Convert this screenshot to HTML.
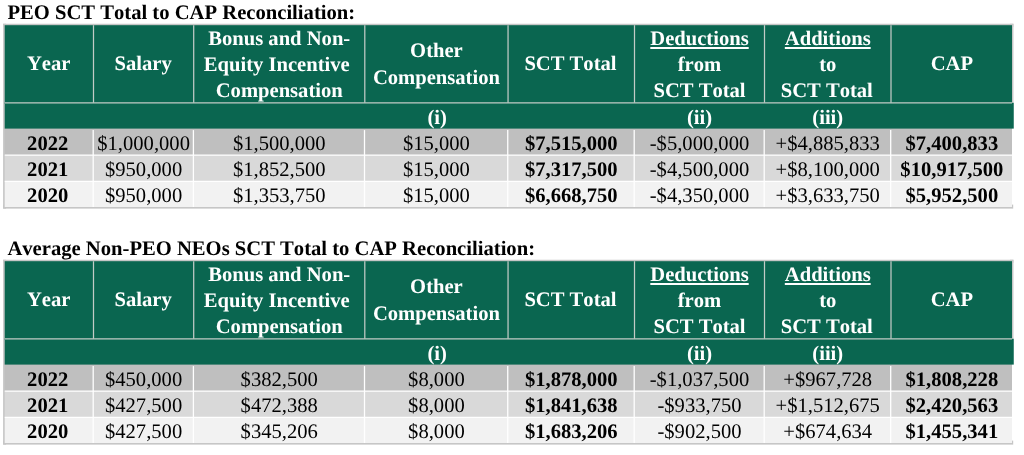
<!DOCTYPE html>
<html><head><meta charset="utf-8"><title>SCT Total to CAP Reconciliation</title>
<style>
html,body{margin:0;padding:0;background:#fff;}
body{width:1024px;height:455px;position:relative;overflow:hidden;font-family:"Liberation Serif","Times New Roman",serif;font-size:20.6px;color:#000;}
svg{position:absolute;left:0;top:0;}
.t{position:absolute;font-kerning:none;text-rendering:geometricPrecision;line-height:26px;height:26px;white-space:nowrap;text-align:center;}
.ttl{font-weight:bold;text-align:left;font-size:20.64px;}
.h{font-weight:bold;color:#fff;}
.b{font-weight:bold;}
.h u{text-decoration-thickness:2px;text-underline-offset:2px;}
</style></head><body>
<svg width="1024" height="455" viewBox="0 0 1024 455">
<rect x="3.1" y="23.75" width="3" height="184.85" fill="#c6c6c6"/>
<rect x="3.1" y="23.75" width="1010.35" height="3" fill="#c6c6c6"/>
<rect x="3.1" y="204.60" width="1010.1" height="4" fill="#c6c6c6"/>
<rect x="1010" y="23.75" width="3.45" height="79.00" fill="#c6c6c6"/>
<rect x="4.7" y="181.40" width="1007.3" height="25.60" fill="#f2f2f2"/>
<rect x="4.7" y="155.20" width="1007.3" height="26.20" fill="#d9d9d9"/>
<rect x="4.7" y="120.60" width="1007.3" height="34.60" fill="#bfbfbf"/>
<rect x="4.7" y="25.20" width="1007.3" height="78.55" fill="#0a6650"/>
<rect x="4.7" y="102.75" width="1009.05" height="25.85" fill="#0a6650"/>
<line x1="4.7" x2="1012.0" y1="155.20" y2="155.20" stroke="#fff" stroke-width="1.3"/>
<line x1="4.7" x2="1012.0" y1="181.40" y2="181.40" stroke="#fff" stroke-width="1.3"/>
<line x1="93.5" x2="93.5" y1="25.20" y2="102.75" stroke="#c2cbc6" stroke-width="1.25"/>
<line x1="93.2" x2="93.2" y1="130.10" y2="207.00" stroke="#fff" stroke-width="1.3"/>
<line x1="193.7" x2="193.7" y1="25.20" y2="102.75" stroke="#c2cbc6" stroke-width="1.25"/>
<line x1="193.39999999999998" x2="193.39999999999998" y1="130.10" y2="207.00" stroke="#fff" stroke-width="1.3"/>
<line x1="364.8" x2="364.8" y1="25.20" y2="102.75" stroke="#c2cbc6" stroke-width="1.25"/>
<line x1="364.5" x2="364.5" y1="130.10" y2="207.00" stroke="#fff" stroke-width="1.3"/>
<line x1="508.05" x2="508.05" y1="25.20" y2="102.75" stroke="#c2cbc6" stroke-width="1.25"/>
<line x1="507.75" x2="507.75" y1="130.10" y2="207.00" stroke="#fff" stroke-width="1.3"/>
<line x1="634.5" x2="634.5" y1="25.20" y2="102.75" stroke="#c2cbc6" stroke-width="1.25"/>
<line x1="634.2" x2="634.2" y1="130.10" y2="207.00" stroke="#fff" stroke-width="1.3"/>
<line x1="764.5" x2="764.5" y1="25.20" y2="102.75" stroke="#c2cbc6" stroke-width="1.25"/>
<line x1="764.2" x2="764.2" y1="130.10" y2="207.00" stroke="#fff" stroke-width="1.3"/>
<line x1="891.0" x2="891.0" y1="25.20" y2="102.75" stroke="#c2cbc6" stroke-width="1.25"/>
<line x1="890.7" x2="890.7" y1="130.10" y2="207.00" stroke="#fff" stroke-width="1.3"/>
<line x1="4.7" x2="1012.0" y1="102.75" y2="102.75" stroke="#c2cbc6" stroke-width="1.25"/>
<rect x="3.1" y="259.75" width="3" height="184.85" fill="#c6c6c6"/>
<rect x="3.1" y="259.75" width="1010.35" height="3" fill="#c6c6c6"/>
<rect x="3.1" y="440.60" width="1010.1" height="4" fill="#c6c6c6"/>
<rect x="1010" y="259.75" width="3.45" height="79.00" fill="#c6c6c6"/>
<rect x="4.7" y="417.40" width="1007.3" height="25.60" fill="#f2f2f2"/>
<rect x="4.7" y="391.20" width="1007.3" height="26.20" fill="#d9d9d9"/>
<rect x="4.7" y="356.60" width="1007.3" height="34.60" fill="#bfbfbf"/>
<rect x="4.7" y="261.20" width="1007.3" height="78.55" fill="#0a6650"/>
<rect x="4.7" y="338.75" width="1009.05" height="25.85" fill="#0a6650"/>
<line x1="4.7" x2="1012.0" y1="391.20" y2="391.20" stroke="#fff" stroke-width="1.3"/>
<line x1="4.7" x2="1012.0" y1="417.40" y2="417.40" stroke="#fff" stroke-width="1.3"/>
<line x1="93.5" x2="93.5" y1="261.20" y2="338.75" stroke="#c2cbc6" stroke-width="1.25"/>
<line x1="93.2" x2="93.2" y1="366.10" y2="443.00" stroke="#fff" stroke-width="1.3"/>
<line x1="193.7" x2="193.7" y1="261.20" y2="338.75" stroke="#c2cbc6" stroke-width="1.25"/>
<line x1="193.39999999999998" x2="193.39999999999998" y1="366.10" y2="443.00" stroke="#fff" stroke-width="1.3"/>
<line x1="364.8" x2="364.8" y1="261.20" y2="338.75" stroke="#c2cbc6" stroke-width="1.25"/>
<line x1="364.5" x2="364.5" y1="366.10" y2="443.00" stroke="#fff" stroke-width="1.3"/>
<line x1="508.05" x2="508.05" y1="261.20" y2="338.75" stroke="#c2cbc6" stroke-width="1.25"/>
<line x1="507.75" x2="507.75" y1="366.10" y2="443.00" stroke="#fff" stroke-width="1.3"/>
<line x1="634.5" x2="634.5" y1="261.20" y2="338.75" stroke="#c2cbc6" stroke-width="1.25"/>
<line x1="634.2" x2="634.2" y1="366.10" y2="443.00" stroke="#fff" stroke-width="1.3"/>
<line x1="764.5" x2="764.5" y1="261.20" y2="338.75" stroke="#c2cbc6" stroke-width="1.25"/>
<line x1="764.2" x2="764.2" y1="366.10" y2="443.00" stroke="#fff" stroke-width="1.3"/>
<line x1="891.0" x2="891.0" y1="261.20" y2="338.75" stroke="#c2cbc6" stroke-width="1.25"/>
<line x1="890.7" x2="890.7" y1="366.10" y2="443.00" stroke="#fff" stroke-width="1.3"/>
<line x1="4.7" x2="1012.0" y1="338.75" y2="338.75" stroke="#c2cbc6" stroke-width="1.25"/>
</svg>
<div class="t ttl" style="left:7.4px;top:0.00px">PEO SCT Total to CAP Reconciliation:</div>
<div class="t h" style="left:3.90px;width:89.60px;top:51.00px">Year</div>
<div class="t h" style="left:93.10px;width:100.20px;top:51.00px">Salary</div>
<div class="t h" style="left:193.70px;width:171.10px;top:26.00px">Bonus and Non-</div>
<div class="t h" style="left:191.20px;width:171.10px;top:52.00px">Equity Incentive</div>
<div class="t h" style="left:193.70px;width:171.10px;top:78.00px">Compensation</div>
<div class="t h" style="left:364.80px;width:143.25px;top:38.00px">Other</div>
<div class="t h" style="left:364.80px;width:143.25px;top:65.00px">Compensation</div>
<div class="t h" style="left:365.60px;width:143.25px;top:105.00px">(i)</div>
<div class="t h" style="left:507.25px;width:126.45px;top:51.00px">SCT Total</div>
<div class="t h" style="left:634.50px;width:130.00px;top:26.00px"><u>Deductions</u></div>
<div class="t h" style="left:634.50px;width:130.00px;top:52.00px">from</div>
<div class="t h" style="left:634.50px;width:130.00px;top:78.00px">SCT Total</div>
<div class="t h" style="left:634.50px;width:130.00px;top:105.00px">(ii)</div>
<div class="t h" style="left:764.50px;width:126.50px;top:26.00px"><u>Additions</u></div>
<div class="t h" style="left:764.50px;width:126.50px;top:52.00px">to</div>
<div class="t h" style="left:763.50px;width:126.50px;top:78.00px">SCT Total</div>
<div class="t h" style="left:764.50px;width:126.50px;top:105.00px">(iii)</div>
<div class="t h" style="left:891.00px;width:121.70px;top:51.00px">CAP</div>
<div class="t b" style="left:2.90px;width:89.60px;top:131.00px">2022</div>
<div class="t n" style="left:93.50px;width:100.20px;top:131.00px">$1,000,000</div>
<div class="t n" style="left:193.70px;width:171.10px;top:131.00px">$1,500,000</div>
<div class="t n" style="left:364.80px;width:143.25px;top:131.00px">$15,000</div>
<div class="t b" style="left:508.05px;width:126.45px;top:131.00px">$7,515,000</div>
<div class="t n" style="left:634.50px;width:130.00px;top:131.00px">-$5,000,000</div>
<div class="t n" style="left:764.50px;width:126.50px;top:131.00px">+$4,885,833</div>
<div class="t b" style="left:891.00px;width:121.70px;top:131.00px">$7,400,833</div>
<div class="t b" style="left:2.90px;width:89.60px;top:157.00px">2021</div>
<div class="t n" style="left:93.50px;width:100.20px;top:157.00px">$950,000</div>
<div class="t n" style="left:193.70px;width:171.10px;top:157.00px">$1,852,500</div>
<div class="t n" style="left:364.80px;width:143.25px;top:157.00px">$15,000</div>
<div class="t b" style="left:508.05px;width:126.45px;top:157.00px">$7,317,500</div>
<div class="t n" style="left:634.50px;width:130.00px;top:157.00px">-$4,500,000</div>
<div class="t n" style="left:764.50px;width:126.50px;top:157.00px">+$8,100,000</div>
<div class="t b" style="left:891.00px;width:121.70px;top:157.00px">$10,917,500</div>
<div class="t b" style="left:2.90px;width:89.60px;top:183.00px">2020</div>
<div class="t n" style="left:93.50px;width:100.20px;top:183.00px">$950,000</div>
<div class="t n" style="left:193.70px;width:171.10px;top:183.00px">$1,353,750</div>
<div class="t n" style="left:364.80px;width:143.25px;top:183.00px">$15,000</div>
<div class="t b" style="left:508.05px;width:126.45px;top:183.00px">$6,668,750</div>
<div class="t n" style="left:634.50px;width:130.00px;top:183.00px">-$4,350,000</div>
<div class="t n" style="left:764.50px;width:126.50px;top:183.00px">+$3,633,750</div>
<div class="t b" style="left:891.00px;width:121.70px;top:183.00px">$5,952,500</div>
<div class="t ttl" style="left:7.4px;top:236.00px">Average Non-PEO NEOs SCT Total to CAP Reconciliation:</div>
<div class="t h" style="left:3.90px;width:89.60px;top:287.00px">Year</div>
<div class="t h" style="left:93.10px;width:100.20px;top:287.00px">Salary</div>
<div class="t h" style="left:193.70px;width:171.10px;top:262.00px">Bonus and Non-</div>
<div class="t h" style="left:191.20px;width:171.10px;top:288.00px">Equity Incentive</div>
<div class="t h" style="left:193.70px;width:171.10px;top:314.00px">Compensation</div>
<div class="t h" style="left:364.80px;width:143.25px;top:274.00px">Other</div>
<div class="t h" style="left:364.80px;width:143.25px;top:301.00px">Compensation</div>
<div class="t h" style="left:365.60px;width:143.25px;top:341.00px">(i)</div>
<div class="t h" style="left:507.25px;width:126.45px;top:287.00px">SCT Total</div>
<div class="t h" style="left:634.50px;width:130.00px;top:262.00px"><u>Deductions</u></div>
<div class="t h" style="left:634.50px;width:130.00px;top:288.00px">from</div>
<div class="t h" style="left:634.50px;width:130.00px;top:314.00px">SCT Total</div>
<div class="t h" style="left:634.50px;width:130.00px;top:341.00px">(ii)</div>
<div class="t h" style="left:764.50px;width:126.50px;top:262.00px"><u>Additions</u></div>
<div class="t h" style="left:764.50px;width:126.50px;top:288.00px">to</div>
<div class="t h" style="left:763.50px;width:126.50px;top:314.00px">SCT Total</div>
<div class="t h" style="left:764.50px;width:126.50px;top:341.00px">(iii)</div>
<div class="t h" style="left:891.00px;width:121.70px;top:287.00px">CAP</div>
<div class="t b" style="left:2.90px;width:89.60px;top:367.00px">2022</div>
<div class="t n" style="left:93.50px;width:100.20px;top:367.00px">$450,000</div>
<div class="t n" style="left:193.70px;width:171.10px;top:367.00px">$382,500</div>
<div class="t n" style="left:364.80px;width:143.25px;top:367.00px">$8,000</div>
<div class="t b" style="left:508.05px;width:126.45px;top:367.00px">$1,878,000</div>
<div class="t n" style="left:634.50px;width:130.00px;top:367.00px">-$1,037,500</div>
<div class="t n" style="left:764.50px;width:126.50px;top:367.00px">+$967,728</div>
<div class="t b" style="left:891.00px;width:121.70px;top:367.00px">$1,808,228</div>
<div class="t b" style="left:2.90px;width:89.60px;top:393.00px">2021</div>
<div class="t n" style="left:93.50px;width:100.20px;top:393.00px">$427,500</div>
<div class="t n" style="left:193.70px;width:171.10px;top:393.00px">$472,388</div>
<div class="t n" style="left:364.80px;width:143.25px;top:393.00px">$8,000</div>
<div class="t b" style="left:508.05px;width:126.45px;top:393.00px">$1,841,638</div>
<div class="t n" style="left:634.50px;width:130.00px;top:393.00px">-$933,750</div>
<div class="t n" style="left:764.50px;width:126.50px;top:393.00px">+$1,512,675</div>
<div class="t b" style="left:891.00px;width:121.70px;top:393.00px">$2,420,563</div>
<div class="t b" style="left:2.90px;width:89.60px;top:419.00px">2020</div>
<div class="t n" style="left:93.50px;width:100.20px;top:419.00px">$427,500</div>
<div class="t n" style="left:193.70px;width:171.10px;top:419.00px">$345,206</div>
<div class="t n" style="left:364.80px;width:143.25px;top:419.00px">$8,000</div>
<div class="t b" style="left:508.05px;width:126.45px;top:419.00px">$1,683,206</div>
<div class="t n" style="left:634.50px;width:130.00px;top:419.00px">-$902,500</div>
<div class="t n" style="left:764.50px;width:126.50px;top:419.00px">+$674,634</div>
<div class="t b" style="left:891.00px;width:121.70px;top:419.00px">$1,455,341</div>
</body></html>
